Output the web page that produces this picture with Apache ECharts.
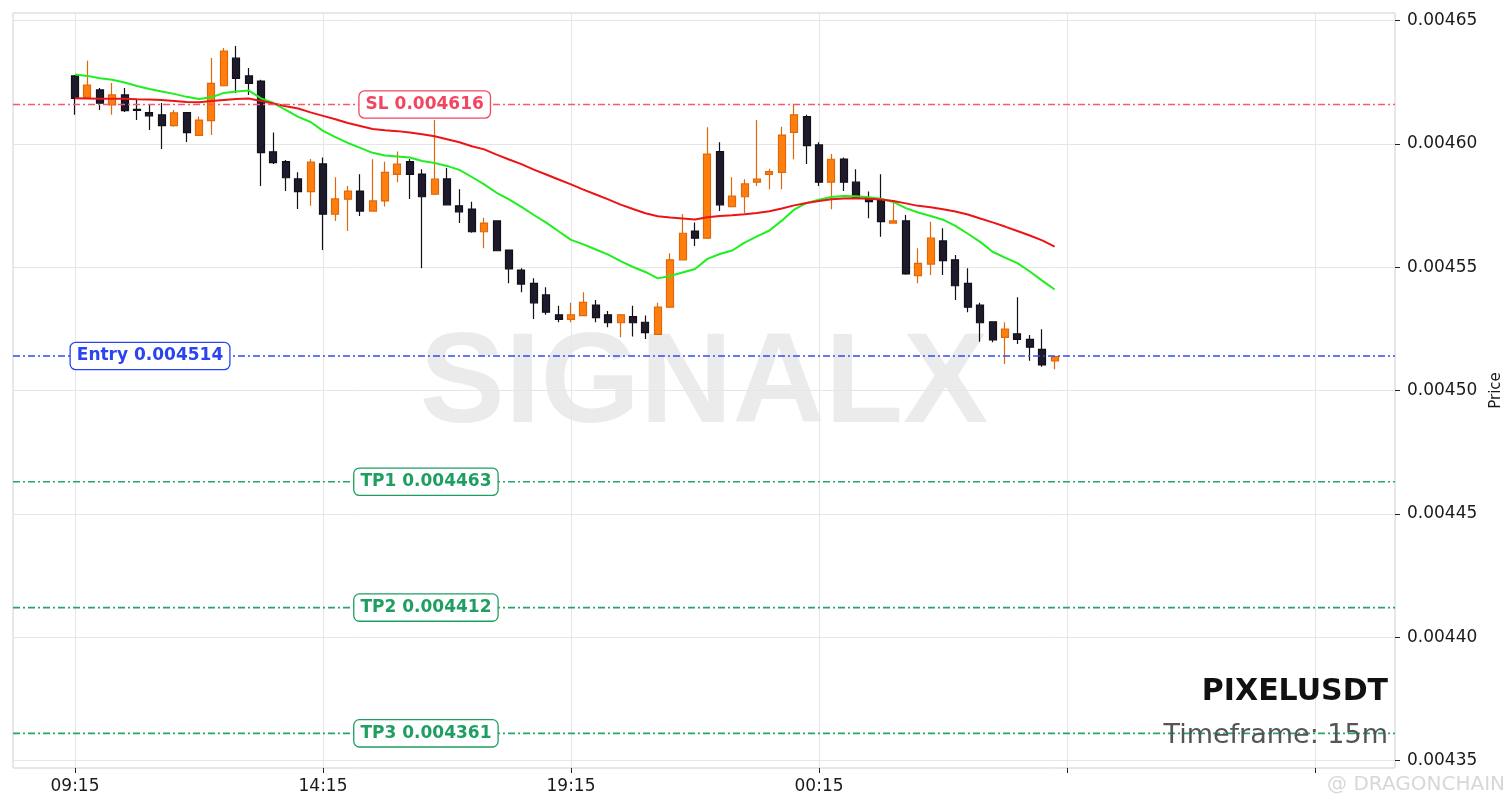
<!DOCTYPE html>
<html>
<head>
<meta charset="utf-8">
<title>PIXELUSDT 15m</title>
<script src="https://cdn.jsdelivr.net/npm/echarts@6/dist/echarts.min.js"></script>
<style>
  html, body { margin: 0; padding: 0; background: #fff; }
  #chart { width: 1512px; height: 808px; }
</style>
</head>
<body>
<div id="chart"></div>
<script>
// 15m candles, [open, close, low, high], first one at 09:15
const candles = [
  [0.0046276, 0.0046185, 0.0046118, 0.0046280],
  [0.0046189, 0.0046239, 0.0046185, 0.0046337],
  [0.0046219, 0.0046165, 0.0046138, 0.0046227],
  [0.0046158, 0.0046199, 0.0046118, 0.0046247],
  [0.0046199, 0.0046135, 0.0046130, 0.0046227],
  [0.0046140, 0.0046136, 0.0046097, 0.0046179],
  [0.0046127, 0.0046114, 0.0046057, 0.0046158],
  [0.0046118, 0.0046074, 0.0045980, 0.0046166],
  [0.0046074, 0.0046126, 0.0046070, 0.0046138],
  [0.0046127, 0.0046046, 0.0046008, 0.0046130],
  [0.0046035, 0.0046097, 0.0046032, 0.0046111],
  [0.0046095, 0.0046246, 0.0046036, 0.0046349],
  [0.0046236, 0.0046377, 0.0046233, 0.0046389],
  [0.0046348, 0.0046266, 0.0046207, 0.0046397],
  [0.0046276, 0.0046246, 0.0046199, 0.0046308],
  [0.0046255, 0.0045965, 0.0045830, 0.0046260],
  [0.0045968, 0.0045924, 0.0045919, 0.0046046],
  [0.0045928, 0.0045863, 0.0045809, 0.0045935],
  [0.0045858, 0.0045807, 0.0045736, 0.0045885],
  [0.0045807, 0.0045926, 0.0045749, 0.0045939],
  [0.0045919, 0.0045715, 0.0045570, 0.0045945],
  [0.0045715, 0.0045777, 0.0045688, 0.0045865],
  [0.0045776, 0.0045809, 0.0045647, 0.0045830],
  [0.0045809, 0.0045728, 0.0045708, 0.0045877],
  [0.0045728, 0.0045769, 0.0045725, 0.0045938],
  [0.0045769, 0.0045885, 0.0045746, 0.0045928],
  [0.0045877, 0.0045918, 0.0045845, 0.0045969],
  [0.0045928, 0.0045877, 0.0045777, 0.0045939],
  [0.0045878, 0.0045786, 0.0045496, 0.0045897],
  [0.0045796, 0.0045857, 0.0045793, 0.0046097],
  [0.0045858, 0.0045753, 0.0045750, 0.0045902],
  [0.0045749, 0.0045725, 0.0045679, 0.0045816],
  [0.0045736, 0.0045644, 0.0045640, 0.0045766],
  [0.0045644, 0.0045679, 0.0045577, 0.0045701],
  [0.0045688, 0.0045567, 0.0045565, 0.0045690],
  [0.0045570, 0.0045493, 0.0045435, 0.0045572],
  [0.0045489, 0.0045432, 0.0045399, 0.0045496],
  [0.0045435, 0.0045356, 0.0045290, 0.0045455],
  [0.0045388, 0.0045318, 0.0045307, 0.0045419],
  [0.0045307, 0.0045289, 0.0045277, 0.0045344],
  [0.0045289, 0.0045307, 0.0045277, 0.0045356],
  [0.0045304, 0.0045358, 0.0045302, 0.0045399],
  [0.0045347, 0.0045296, 0.0045277, 0.0045367],
  [0.0045307, 0.0045275, 0.0045257, 0.0045323],
  [0.0045275, 0.0045307, 0.0045216, 0.0045310],
  [0.0045300, 0.0045275, 0.0045219, 0.0045344],
  [0.0045277, 0.0045235, 0.0045209, 0.0045304],
  [0.0045228, 0.0045338, 0.0045225, 0.0045356],
  [0.0045338, 0.0045530, 0.0045335, 0.0045557],
  [0.0045530, 0.0045638, 0.0045528, 0.0045716],
  [0.0045647, 0.0045618, 0.0045586, 0.0045682],
  [0.0045618, 0.0045959, 0.0045615, 0.0046068],
  [0.0045969, 0.0045753, 0.0045728, 0.0046007],
  [0.0045746, 0.0045789, 0.0045743, 0.0045865],
  [0.0045786, 0.0045838, 0.0045719, 0.0045857],
  [0.0045845, 0.0045857, 0.0045830, 0.0046097],
  [0.0045877, 0.0045888, 0.0045816, 0.0045899],
  [0.0045885, 0.0046036, 0.0045816, 0.0046070],
  [0.0046047, 0.0046118, 0.0045938, 0.0046158],
  [0.0046111, 0.0045993, 0.0045919, 0.0046118],
  [0.0045996, 0.0045845, 0.0045830, 0.0046007],
  [0.0045845, 0.0045938, 0.0045735, 0.0045959],
  [0.0045939, 0.0045845, 0.0045809, 0.0045945],
  [0.0045845, 0.0045784, 0.0045782, 0.0045897],
  [0.0045776, 0.0045766, 0.0045699, 0.0045807],
  [0.0045773, 0.0045685, 0.0045624, 0.0045877],
  [0.0045679, 0.0045688, 0.0045676, 0.0045773],
  [0.0045688, 0.0045473, 0.0045470, 0.0045712],
  [0.0045466, 0.0045516, 0.0045435, 0.0045577],
  [0.0045513, 0.0045618, 0.0045469, 0.0045685],
  [0.0045607, 0.0045527, 0.0045469, 0.0045658],
  [0.0045530, 0.0045425, 0.0045367, 0.0045550],
  [0.0045435, 0.0045338, 0.0045318, 0.0045496],
  [0.0045347, 0.0045275, 0.0045198, 0.0045356],
  [0.0045279, 0.0045205, 0.0045196, 0.0045281],
  [0.0045216, 0.0045249, 0.0045108, 0.0045277],
  [0.0045230, 0.0045208, 0.0045189, 0.0045378],
  [0.0045208, 0.0045176, 0.0045121, 0.0045225],
  [0.0045167, 0.0045104, 0.0045097, 0.0045249],
  [0.0045120, 0.0045138, 0.0045086, 0.0045140]
];

// fast (green) and slow (red) moving averages, one value per candle
const maFast = [
  0.0046282, 0.0046276, 0.0046266, 0.0046260, 0.0046249, 0.0046235, 0.0046223, 0.0046213, 0.0046203, 0.0046191,
  0.0046182, 0.0046189, 0.0046207, 0.0046213, 0.0046217, 0.0046185, 0.0046166, 0.0046138, 0.0046110, 0.0046089,
  0.0046053, 0.0046028, 0.0046004, 0.0045984, 0.0045964, 0.0045953, 0.0045949, 0.0045945, 0.0045931, 0.0045923,
  0.0045911, 0.0045895, 0.0045866, 0.0045836, 0.0045802, 0.0045775, 0.0045745, 0.0045712, 0.0045681, 0.0045646,
  0.0045611, 0.0045593, 0.0045572, 0.0045551, 0.0045525, 0.0045501, 0.0045481, 0.0045455, 0.0045465, 0.0045479,
  0.0045493, 0.0045534, 0.0045554, 0.0045568, 0.0045600, 0.0045625, 0.0045649, 0.0045689, 0.0045734, 0.0045761,
  0.0045774, 0.0045785, 0.0045789, 0.0045788, 0.0045784, 0.0045778, 0.0045765, 0.0045740, 0.0045722, 0.0045708,
  0.0045693, 0.0045668, 0.0045636, 0.0045603, 0.0045563, 0.0045539, 0.0045517, 0.0045483, 0.0045446, 0.0045410
];
const maSlow = [
  0.0046185, 0.0046184, 0.0046183, 0.0046183, 0.0046183, 0.0046181, 0.0046180, 0.0046178, 0.0046174, 0.0046170,
  0.0046169, 0.0046174, 0.0046178, 0.0046182, 0.0046184, 0.0046174, 0.0046164, 0.0046153, 0.0046144, 0.0046128,
  0.0046114, 0.0046100, 0.0046085, 0.0046073, 0.0046061, 0.0046056, 0.0046052, 0.0046046, 0.0046039, 0.0046031,
  0.0046019, 0.0046007, 0.0045991, 0.0045978, 0.0045957, 0.0045937, 0.0045918, 0.0045896, 0.0045876, 0.0045856,
  0.0045836, 0.0045815, 0.0045795, 0.0045775, 0.0045754, 0.0045736, 0.0045719, 0.0045707, 0.0045702, 0.0045698,
  0.0045694, 0.0045703, 0.0045708, 0.0045711, 0.0045715, 0.0045720, 0.0045727, 0.0045738, 0.0045751, 0.0045761,
  0.0045769, 0.0045776, 0.0045779, 0.0045780, 0.0045778, 0.0045775, 0.0045769, 0.0045759, 0.0045749, 0.0045743,
  0.0045735, 0.0045726, 0.0045714, 0.0045698, 0.0045682, 0.0045665, 0.0045647, 0.0045629, 0.0045609, 0.0045584
];

// trade levels
const levelNames = ['SL', 'Entry', 'TP1', 'TP2', 'TP3'];
const levelValues = [0.004616, 0.004514, 0.004463, 0.004412, 0.004361];

// axis ticks (x = candle number from 09:15)
const xTickValues = [0, 20, 40, 60, 80, 100];
const xTickLabels = ['09:15', '14:15', '19:15', '00:15', '', ''];
const yTickValues = [0.00435, 0.0044, 0.00445, 0.0045, 0.00455, 0.0046, 0.00465];

const symbol = 'PIXELUSDT';
const timeframe = '15m';
const watermark = 'SIGNALX';

// styling
const FONT = '"DejaVu Sans", sans-serif';
const X_MIN = -5;
const X_MAX = 106.45;
const LEVEL_COLORS = ['#f2455f', '#2b44f2', '#1f9e62', '#1f9e62', '#1f9e62'];
const LINE_COLORS = ['#f25a72', '#2f4ef5', '#22a868', '#22a868', '#22a868'];
const LABEL_X = [28.2, 6.05, 28.3, 28.3, 28.3];

const chart = echarts.init(document.getElementById('chart'), null, { renderer: 'canvas' });

// one flat dash-dot line per trade level, across the whole plot
const levelSeries = levelValues.map((v, i) => ({
  name: levelNames[i],
  type: 'line',
  data: [[X_MIN, v], [X_MAX, v]],
  showSymbol: false,
  symbol: 'none',
  silent: true,
  z: 4,
  lineStyle: { color: LINE_COLORS[i], type: [7, 3, 2, 3], width: 1.6 }
}));

const markPointData = levelValues.map((v, i) => ({
  coord: [LABEL_X[i], v],
  label: {
    formatter: `${levelNames[i]} ${v.toFixed(6)}`,
    color: LEVEL_COLORS[i],
    borderColor: LEVEL_COLORS[i]
  }
}));

const option = {
  animation: false,
  backgroundColor: '#fff',
  textStyle: { fontFamily: FONT },
  grid: {
    left: 13, right: 117, top: 13, bottom: 40,
    show: true, borderColor: '#d0d0d0', borderWidth: 1
  },
  xAxis: {
    type: 'value',
    min: X_MIN,
    max: X_MAX,
    splitNumber: 5,
    axisLine: { show: false, onZero: false },
    axisTick: {
      show: true, length: 5, customValues: xTickValues,
      lineStyle: { color: '#222', width: 1 }
    },
    axisLabel: {
      customValues: xTickValues.slice(0, 4),
      formatter: v => xTickLabels[xTickValues.indexOf(v)] || '',
      color: '#1a1a1a', fontSize: 17, fontFamily: FONT, margin: 10
    },
    splitLine: { show: true, lineStyle: { color: '#e6e6e6', width: 1 } }
  },
  yAxis: {
    type: 'value',
    position: 'right',
    min: 0.00434696,
    max: 0.0046531,
    scale: true,
    name: 'Price',
    nameLocation: 'middle',
    nameGap: 88,
    nameTextStyle: { color: '#1a1a1a', fontSize: 15, fontFamily: FONT },
    axisLine: { show: false, onZero: false },
    axisTick: {
      show: true, length: 5, customValues: yTickValues,
      lineStyle: { color: '#222', width: 1 }
    },
    axisLabel: {
      customValues: yTickValues,
      formatter: v => v.toFixed(5),
      color: '#1a1a1a', fontSize: 17, fontFamily: FONT, margin: 12
    },
    splitLine: { show: true, lineStyle: { color: '#e6e6e6', width: 1 } }
  },
  graphic: [
    {
      type: 'text', z: -1, silent: true,
      style: {
        text: watermark, x: 704, y: 387,
        font: 'bold 128px "Liberation Sans", sans-serif',
        fill: 'rgba(0,0,0,0.08)', textAlign: 'center', textVerticalAlign: 'middle'
      }
    },
    {
      type: 'text', silent: true, z: 10,
      style: {
        text: symbol, x: 1388, y: 692,
        font: `bold 30px ${FONT}`, fill: '#111',
        textAlign: 'right', textVerticalAlign: 'middle'
      }
    },
    {
      type: 'text', silent: true, z: 10,
      style: {
        text: `Timeframe: ${timeframe}`, x: 1388, y: 736,
        font: `27px ${FONT}`, fill: '#555',
        textAlign: 'right', textVerticalAlign: 'middle'
      }
    },
    {
      type: 'text', silent: true, z: 10,
      style: {
        text: '@ DRAGONCHAIN', x: 1505, y: 785,
        font: `20px ${FONT}`, fill: 'rgba(140,140,140,0.35)',
        textAlign: 'right', textVerticalAlign: 'middle'
      }
    }
  ],
  series: [
    {
      name: 'Candles',
      type: 'candlestick',
      data: candles.map((c, i) => [i, c[0], c[1], c[2], c[3]]),
      barWidth: 7.5,
      z: 2,
      itemStyle: {
        color: '#ff7f0e',
        color0: '#1e1a2c',
        borderColor: '#e0680a',
        borderColor0: '#111018',
        borderWidth: 1.2
      },
      markPoint: {
        silent: true,
        symbol: 'rect',
        symbolSize: 1,
        itemStyle: { color: 'rgba(0,0,0,0)' },
        z: 6,
        label: {
          show: true,
          position: 'inside',
          fontSize: 17,
          fontWeight: 'bold',
          fontFamily: FONT,
          backgroundColor: '#fff',
          borderWidth: 1.3,
          borderRadius: 5,
          padding: [5, 6, 4, 6]
        },
        data: markPointData
      }
    },
    {
      name: 'MA fast',
      type: 'line',
      data: maFast.map((v, i) => [i, v]),
      showSymbol: false,
      symbol: 'none',
      z: 3,
      lineStyle: { color: '#1fef1f', width: 2 }
    },
    {
      name: 'MA slow',
      type: 'line',
      data: maSlow.map((v, i) => [i, v]),
      showSymbol: false,
      symbol: 'none',
      z: 3,
      lineStyle: { color: '#ec1414', width: 2 }
    },
    ...levelSeries
  ]
};

chart.setOption(option);
</script>
</body>
</html>
